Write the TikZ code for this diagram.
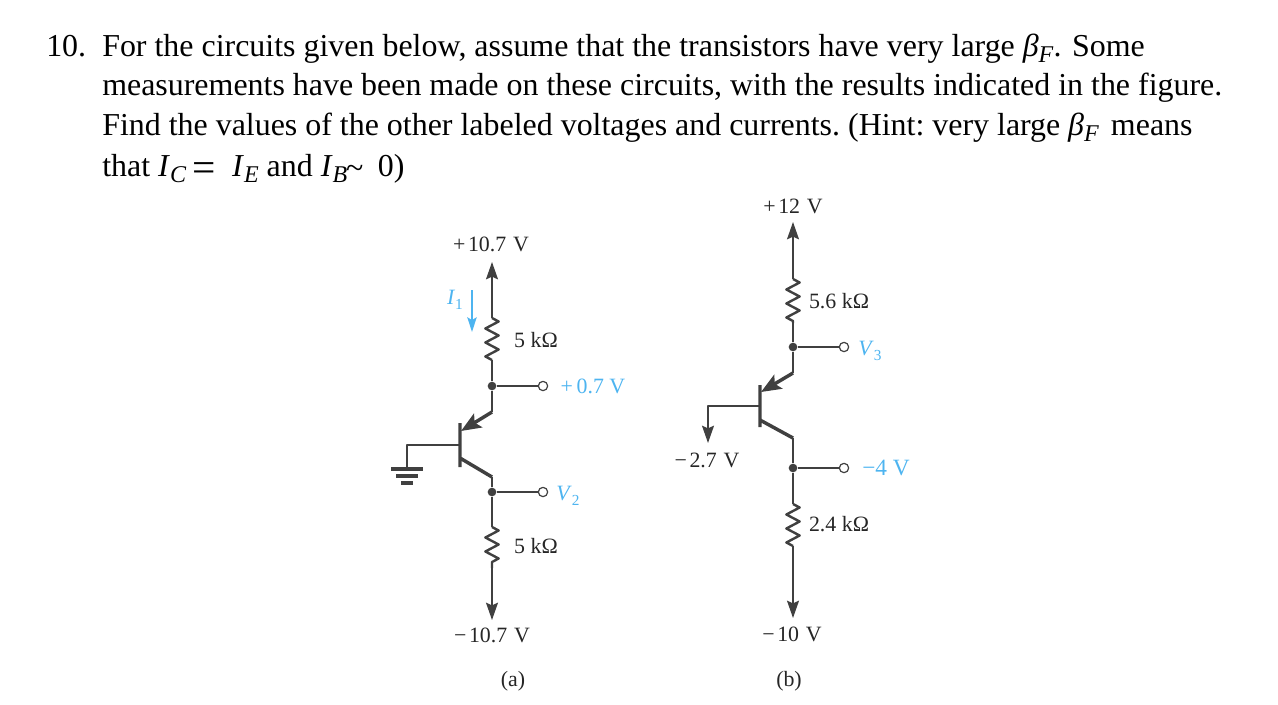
\documentclass[tikz,border=0pt]{standalone}
\usepackage{fontspec}
\setmainfont{Liberation Serif}
\usetikzlibrary{arrows.meta,decorations.pathmorphing}
\definecolor{wire}{HTML}{404040}
\definecolor{meas}{HTML}{4DB4F0}
\newcommand{\subl}[2]{\textit{#1}\raisebox{-0.25em}{\fontsize{11.5}{11.5}\selectfont #2}}
\newcommand{\subi}[2]{\textit{#1}\raisebox{-0.2em}{\fontsize{18}{18}\selectfont\textit{#2}}}
\frenchspacing
\begin{document}
\begin{tikzpicture}[x=0.75pt, y=-0.75pt, line join=round, >={Stealth[length=13pt,width=9pt,inset=2pt]},
	wire/.style={draw=wire, line width=1.1pt},
	res/.style={draw=wire, line width=1.8pt, decorate, decoration={zigzag, segment length=10.5pt, amplitude=5pt}},
	bar/.style={draw=wire, line width=2.6pt},
	dot/.style={circle, fill=wire, inner sep=0pt, minimum size=6.5pt},
	term/.style={circle, draw=wire, fill=white, line width=0.9pt, inner sep=0pt, minimum size=7pt},
	line/.style={anchor=base west, inner sep=0pt, font=\fontsize{23.95}{24}\selectfont},
	val/.style={inner sep=0pt, text=black!85, font=\fontsize{16.4}{16.4}\selectfont},
	meas/.style={inner sep=0pt, text=meas, font=\fontsize{16.4}{16.4}\selectfont}]
	\useasboundingbox (0,0) rectangle (1278,704);
	\node[line] (num) at (46,56) {10.};
	\node[line] (la) at (102,56) {For the circuits given below, assume that the transistors have very large \subi{β}{F}.\hspace{2pt} Some};
	\node[line] (lb) at (102,95) {measurements have been made on these circuits, with the results indicated in the figure.};
	\node[line] (lc) at (102,135) {Find the values of the other labeled voltages and currents. (Hint: very large \subi{β}{F}\hspace{3pt} means};
	\node[line] (ld) at (102,176) {that \subi{I}{C}\hspace{5pt}\raisebox{-3.8pt}{\fontsize{31}{31}\selectfont =}\hspace{12pt}\subi{I}{E} and \subi{I}{B}\hspace{-1pt}\raisebox{-1.5pt}{\textasciitilde}\hspace{11pt}0)};
	% circuit (a)
	\path (492,262) coordinate (atop)
	(492,318) coordinate (ar1)
	(492,360) coordinate (ar2)
	(492,412) coordinate (aem)
	(461,431) coordinate (aemb)
	(460,423) coordinate (abar1)
	(460,467) coordinate (abar2)
	(460,445) coordinate (abase)
	(407,445) coordinate (agc)
	(407,469) coordinate (ag)
	(460,458) coordinate (acolb)
	(492,477) coordinate (acol)
	(492,527) coordinate (ar3)
	(492,568) coordinate (ar4)
	(492,620) coordinate (abot);
	\node[dot] (aj1) at (492,386) {};
	\node[dot] (aj2) at (492,492) {};
	\node[term] (at1) at (543,386) {};
	\node[term] (at2) at (543,492) {};
	\draw[wire,->] (ar1)--(atop);
	\draw[res] (ar1)--(ar2);
	\draw[wire] (ar2)--(aj1)--(aem) (aj1)--(at1) (acol)--(aj2)--(ar3) (aj2)--(at2);
	\draw[res] (ar3)--(ar4);
	\draw[wire,->] (ar4)--(abot);
	\draw[bar] (abar1)--(abar2) (acolb)--(acol);
	\draw[bar,-{Stealth[length=15pt,width=12pt,inset=3pt]}] (aem)--(aemb);
	\draw[wire] (abase)--(agc)--(ag);
	\draw[bar] (391,469)--(423,469) (396,476)--(418,476) (401,483)--(413,483);
	\node[val] (avt) at (491,244) {+\hspace{2pt}10.7\hspace{1pt} V};
	\node[val] (ara) at (536,340) {5 kΩ};
	\node[val] (arb) at (536,546) {5 kΩ};
	\node[val] (avb) at (492,635) {−\hspace{2pt}10.7\hspace{1pt} V};
	\node[val] (capa) at (513,681) {(a)};
	\node[meas] (ai) at (455,300) {\subl{I}{1}};
	\node[meas] (av1) at (593,386) {+\,0.7 V};
	\node[meas] (av2) at (568,496) {\subl{V}{2}};
	\coordinate (ia) at (472,290);
	\coordinate (ib) at (472,332);
	\draw[draw=meas, line width=1.1pt, -{Stealth[length=11pt,width=7pt,inset=2pt]}] (ia)--(ib);
	% circuit (b)
	\path (793,222) coordinate (btop)
	(793,279) coordinate (br1)
	(793,323) coordinate (br2)
	(793,373) coordinate (bem)
	(761,392) coordinate (bemb)
	(760,385) coordinate (bbar1)
	(760,427) coordinate (bbar2)
	(760,406) coordinate (bbase)
	(708,406) coordinate (bbc)
	(708,443) coordinate (bbe)
	(760,420) coordinate (bcolb)
	(793,438) coordinate (bcol)
	(793,504) coordinate (br3)
	(793,546) coordinate (br4)
	(793,618) coordinate (bbot);
	\node[dot] (bj1) at (793,347) {};
	\node[dot] (bj2) at (793,468) {};
	\node[term] (bt1) at (844,347) {};
	\node[term] (bt2) at (844,468) {};
	\draw[wire,->] (br1)--(btop);
	\draw[res] (br1)--(br2);
	\draw[wire] (br2)--(bj1)--(bem) (bj1)--(bt1) (bcol)--(bj2)--(br3) (bj2)--(bt2);
	\draw[res] (br3)--(br4);
	\draw[wire,->] (br4)--(bbot);
	\draw[bar] (bbar1)--(bbar2) (bcolb)--(bcol);
	\draw[bar,-{Stealth[length=15pt,width=12pt,inset=3pt]}] (bem)--(bemb);
	\draw[wire,->] (bbase)--(bbc)--(bbe);
	\node[val] (bvt) at (793,206) {+\hspace{2pt}12\hspace{1pt} V};
	\node[val] (bra) at (839,301) {5.6 kΩ};
	\node[val] (brb) at (839,524) {2.4 kΩ};
	\node[val] (bvb) at (707,460) {−\hspace{2pt}2.7\hspace{1pt} V};
	\node[val] (bve) at (792,634) {−\hspace{2pt}10\hspace{1pt} V};
	\node[val] (capb) at (789,681) {(b)};
	\node[meas] (bv3) at (870,351) {\subl{V}{3}};
	\node[meas, font=\fontsize{17.5}{17.5}\selectfont] (bv4) at (886,468) {−4 V};
\end{tikzpicture}
\end{document}
